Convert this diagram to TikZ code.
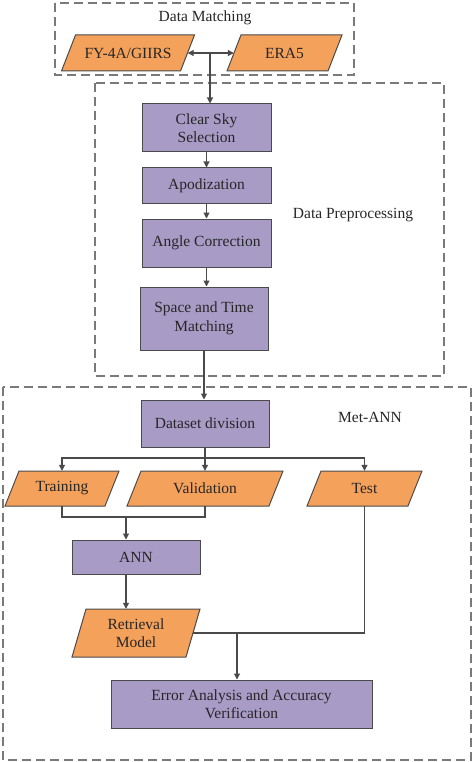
\documentclass[tikz,border=0pt]{standalone}
\usepackage{fontspec}
\setmainfont{Liberation Serif}
\usetikzlibrary{arrows.meta}
\definecolor{purp}{HTML}{A89BC6}
\definecolor{orng}{HTML}{F4A15C}
\definecolor{edgec}{HTML}{4A4A4A}
\definecolor{dashc}{HTML}{7A7A7A}
\newcommand\iopara[6]{%
  \path[iofill] ({#2-#4/2-7},{#3+#5/2}) -- ({#2-#4/2+7},{#3-#5/2}) -- ({#2+#4/2+7},{#3-#5/2}) -- ({#2+#4/2-7},{#3+#5/2}) -- cycle;
  \node[iobox, minimum width=#4pt, minimum height=#5pt] (#1) at (#2,#3) {#6};
}
\begin{document}
\begin{tikzpicture}[x=1pt,y=-1pt,
  txt/.style={font=\fontsize{15.5}{18.5}\selectfont, text=black!85},
  procbox/.style={txt, draw=edgec, fill=purp, line width=1pt, align=center, inner sep=0pt},
  iobox/.style={txt, align=center, inner sep=0pt},
  iofill/.style={draw=edgec, fill=orng, line width=1pt, line join=miter},
  frame/.style={draw=dashc, line width=1.6pt, dash pattern=on 9pt off 5pt},
  conn/.style={draw=edgec, line width=1.1pt},
  arr/.style={conn, -{Triangle[length=6pt,width=6pt]}},
]
\useasboundingbox (0,0) rectangle (474,762);
\fill[white] (0,0) rectangle (474,762);

% frames
\draw[frame] (55,3) rectangle (354,75);
\draw[frame] (95,83) rectangle (444,376);
\draw[frame] (3,387) rectangle (471,760);

\node[txt] (lbldm) at (205,18) {Data Matching};
\node[txt] (lbldp) at (353,215) {Data Preprocessing};
\node[txt] (lblma) at (370,417) {Met-ANN};

% data matching
\iopara{fy}{128}{53}{119}{36}{FY-4A/GIIRS}
\iopara{era}{284.5}{53}{101}{36}{ERA5}

% preprocessing
\node[procbox, minimum width=129pt, minimum height=48pt] (css) at (206.5,128) {Clear Sky\\Selection};
\node[procbox, minimum width=129pt, minimum height=35pt] (apo) at (206.5,185.5) {Apodization};
\node[procbox, minimum width=129pt, minimum height=48pt] (ang) at (206.5,243) {Angle Correction};
\node[procbox, minimum width=128pt, minimum height=63pt] (stm) at (204,318.5) {Space and Time\\Matching};

% Met-ANN
\node[procbox, minimum width=128pt, minimum height=47pt] (dsd) at (205,423.5) {Dataset division};
\iopara{trn}{62}{488.5}{100}{35}{Training}
\iopara{val}{205}{488.5}{142}{35}{Validation}
\iopara{tst}{364.5}{488.5}{101}{35}{Test}
\node[procbox, minimum width=128pt, minimum height=34pt] (ann) at (136,557) {ANN};
\iopara{ret}{136}{633}{114}{48}{Retrieval\\Model}
\node[procbox, minimum width=261pt, minimum height=48pt] (err) at (241.5,704) {Error Analysis and Accuracy\\Verification};

% connectors
\coordinate (j0) at (210,53);
\draw[arr] (j0) -- (fy.east);
\draw[arr] (j0) -- (era.west);
\draw[arr] (j0) -- (j0 |- css.north);
\draw[arr] (css.south) -- (apo.north);
\draw[arr] (apo.south) -- (ang.north);
\draw[arr] (ang.south) -- (ang.south |- stm.north);
\draw[arr] (stm.south) -- (stm.south |- dsd.north);

\coordinate (b) at (205,458);
\draw[conn] (dsd.south) -- (b);
\draw[arr] (b) -| (trn.north);
\draw[arr] (b) -- (val.north);
\draw[arr] (b) -| (tst.north);

\coordinate (j2) at (126,517);
\draw[conn] (trn.south) |- (j2) -| (val.south);
\draw[arr] (j2) -- (j2 |- ann.north);
\draw[arr] (ann.south -| j2) -- (j2 |- ret.north);

\coordinate (j3) at (237,633);
\draw[conn] (tst.south) |- (ret.east);
\draw[arr] (j3) -- (j3 |- err.north);
\end{tikzpicture}
\end{document}
